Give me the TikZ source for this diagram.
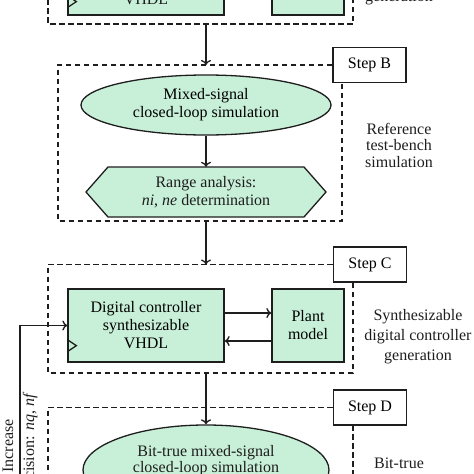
\documentclass[tikz,border=0pt]{standalone}
\usepackage{fontspec}
\setmainfont{Liberation Serif}
\usepackage{tikz}
\usetikzlibrary{arrows.meta,calc,positioning,shapes.geometric}

\definecolor{mint}{RGB}{200,240,216}
\definecolor{ink}{RGB}{30,30,30}

\tikzset{
  blk/.style={draw=ink, fill=mint, line width=1.3pt, align=center, inner sep=0pt},
  simell/.style={ellipse, draw=ink, fill=mint, line width=1.3pt, align=center, inner sep=0pt},
  steplbl/.style={draw=ink, fill=white, line width=1.3pt, minimum width=73pt, minimum height=35pt, inner sep=0pt},
  frame/.style={draw=ink, line width=1.4pt, dash pattern=on 5.5pt off 3.5pt},
  flow/.style={draw=ink, line width=1.3pt, -{To[length=5pt,width=10pt]}},
  note/.style={align=center, text=ink},
}

\begin{document}
\begin{tikzpicture}[x=1pt, y=-1pt, font=\fontsize{16}{18}\selectfont]
        \useasboundingbox (0,0) rectangle (474,474);
        \clip (0,0) rectangle (474,474);

        % step A, cut off by the top edge
        \draw[frame] (48,-100) -- (48,24) -- (353,24) -- (353,-100);
        \node[blk, minimum width=156, minimum height=73] (ctrlA) at (146,-21.5) {};
        \node[blk, minimum width=72, minimum height=73] (plantA) at (308,-21.5) {};
        \node[anchor=base, text=ink] (vhdlA) at (146,4) {VHDL};
        \draw[ink, line width=1.3pt] ($(ctrlA.south west)+(0,-20)$) -- ++(9,6) -- ++(-9,6);
        \node[note, anchor=base] (genA) at (399,1) {generation};

        \coordinate (outA) at (206,24);
        \coordinate (inB) at (206,65);
        \draw[flow] (outA) -- (inB);

        % step B
        \node[steplbl] (stepB) at (369.5,65) {Step B};
        \draw[frame] (stepB.west) -- (58,65) -- (58,221) -- (342,221) -- (342,83);
        \node[simell, minimum width=250, minimum height=60] (mixsim) at (206,105) {Mixed-signal\\closed-loop simulation};

        \coordinate (rng) at (206,192);
        \draw[ink, fill=mint, line width=1.3pt] ($(rng)+(-120,0)$) -- ($(rng)+(-98,-25)$) -- ($(rng)+(98,-25)$)
            -- ($(rng)+(120,0)$) -- ($(rng)+(98,25)$) -- ($(rng)+(-98,25)$) -- cycle;
        \node[align=center, text=ink, minimum width=240, minimum height=50, inner sep=0pt] (range) at (rng) {Range analysis:\\\textit{ni}, \textit{ne} determination};
        \draw[flow] (mixsim) -- (range);

        \node[note, font=\fontsize{16}{16.5}\selectfont] (refB) at (399,145) {Reference\\test-bench\\simulation};

        \coordinate (outB) at (206,221);
        \coordinate (inC) at (206,264.5);
        \draw[flow] (outB) -- (inC);

        % step C
        \node[steplbl] (stepC) at (370,264.5) {Step C};
        \draw[frame] (stepC.west) -- (48,264.5) -- (48,373) -- (353,373) -- (353,282);
        \node[blk, minimum width=156, minimum height=73] (ctrl) at (146,325.5) {Digital controller\\synthesizable\\VHDL};
        \node[blk, minimum width=72, minimum height=73] (plant) at (308,325.5) {Plant\\model};
        \draw[ink, line width=1.3pt] ($(ctrl.south west)+(0,-23)$) -- ++(9,6) -- ++(-9,6);
        \draw[flow] ([yshift=12.5pt]ctrl.east) -- ([yshift=12.5pt]plant.west);
        \draw[flow] ([yshift=-15.5pt]plant.west) -- ([yshift=-15.5pt]ctrl.east);
        \node[note, font=\fontsize{16}{20}\selectfont] (synC) at (418,337) {Synthesizable\\digital controller\\generation};

        % step D
        \node[steplbl] (stepD) at (370,407.5) {Step D};
        \draw[frame] (stepD.west) -- (48,407.5) -- (48,490);
        \draw[frame] (353,425) -- (353,490);
        \node[simell, minimum width=246, minimum height=90] (bitsim) at (206,470) {};
        \node[align=center, text=ink, font=\fontsize{16}{16}\selectfont] (bittxt) at (206,461) {Bit-true mixed-signal\\closed-loop simulation};
        \node[note] (bitD) at (399,463) {Bit-true};

        \coordinate (outC) at (206,373);
        \draw[flow] (outC) -- (bitsim);

        % feedback
        \coordinate (fb) at (20,490);
        \draw[flow] (fb) |- (ctrl.west);
        \node[note, rotate=90] (prec) at (20,446) {Increase\\[3pt]precision: \textit{nq}, \textit{nf}};
\end{tikzpicture}
\end{document}
